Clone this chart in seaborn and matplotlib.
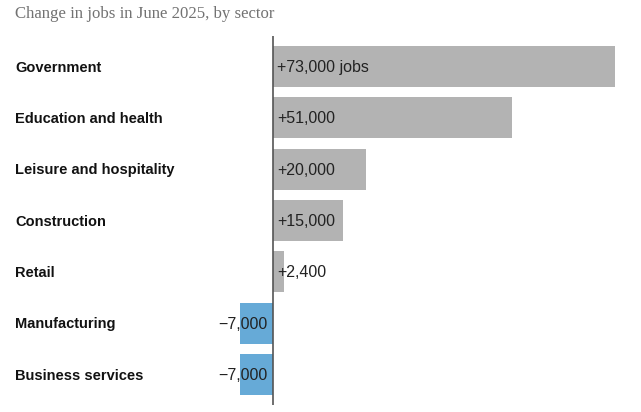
import matplotlib
matplotlib.use("Agg")
import matplotlib.pyplot as plt
import matplotlib.transforms as mtransforms
import seaborn as sns
import pandas as pd

sectors = ["Government", "Education and health", "Leisure and hospitality",
           "Construction", "Retail", "Manufacturing", "Business services"]
changes = [73000, 51000, 20000, 15000, 2400, -7000, -7000]
value_labels = ["+73,000 jobs", "+51,000", "+20,000", "+15,000", "+2,400",
                "\u22127,000", "\u22127,000"]
title = "Change in jobs in June 2025, by sector"

GREY = "#b3b3b3"
BLUE = "#66aad7"

sns.set_theme(style="white")
plt.rcParams["font.family"] = ["Liberation Sans", "DejaVu Sans"]

df = pd.DataFrame({"sector": sectors, "change": changes})
palette = {s: (GREY if c >= 0 else BLUE) for s, c in zip(sectors, changes)}

W, H = 641, 412
PT = 72.0 / 100.0  # points per pixel
fig = plt.figure(figsize=(W / 100, H / 100), dpi=100)
ax_left, ax_right, ax_top, ax_bottom = 180, 630, 36, 405
ax = fig.add_axes([ax_left / W, 1 - ax_bottom / H, (ax_right - ax_left) / W,
                   (ax_bottom - ax_top) / H])

sns.barplot(data=df, x="change", y="sector", hue="sector", palette=palette,
            legend=False, width=0.8, orient="h", ax=ax, saturation=1,
            linewidth=0)

px_per_unit = 4.69 / 1000.0
zero_px = 272.5
ax.set_xlim(-(zero_px - ax_left) / px_per_unit, (ax_right - zero_px) / px_per_unit)
ax.set_ylim(6.594, -0.594)
ax.axvline(0, color="#555555", lw=1.2, zorder=5)

for s in ax.spines.values():
    s.set_visible(False)
ax.set_xticks([])
ax.set_yticks([])
ax.set_xlabel("")
ax.set_ylabel("")

trans = mtransforms.blended_transform_factory(fig.transFigure, ax.transData)
for i, (sec, val, lab) in enumerate(zip(sectors, changes, value_labels)):
    ax.annotate(sec, (15 / W, i), xycoords=trans,
                xytext=(0, -5.3 * PT), textcoords="offset points",
                ha="left", va="baseline",
                fontsize=10.5, fontweight="bold", color="#121212")
    if val >= 0:
        ax.annotate(lab, (0, i), xytext=(4.5 * PT, -5.6 * PT),
                    textcoords="offset points",
                    ha="left", va="baseline", fontsize=11.5, color="#222222",
                    zorder=6)
    else:
        ax.annotate(lab, (0, i), xytext=(-5.0 * PT, -5.6 * PT),
                    textcoords="offset points",
                    ha="right", va="baseline", fontsize=11.5, color="#222222",
                    zorder=6)

fig.text(15 / W, 1 - 17.5 / H, title, ha="left", va="baseline", fontsize=12.1,
         family=["Liberation Serif"], color="#727272")

fig.savefig("out.png", dpi=100)
